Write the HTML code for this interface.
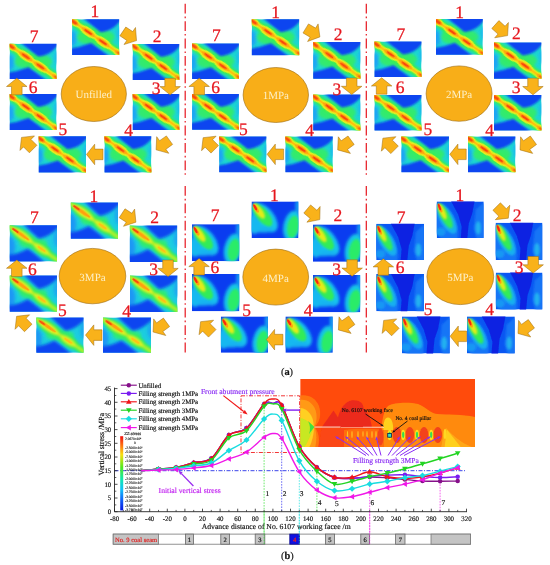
<!DOCTYPE html>
<html lang="en"><head><meta charset="utf-8"><title>Figure</title>
<style>html,body{margin:0;padding:0;background:#fff}svg{display:block}svg text{font-family:"Liberation Serif","DejaVu Serif",serif;text-rendering:geometricPrecision}</style>
</head><body>
<svg width="550" height="565" viewBox="0 0 550 565" >
<defs>
<filter id="b1" x="-20%" y="-20%" width="140%" height="140%"><feGaussianBlur stdDeviation="1.1"/></filter>
<filter id="b2" x="-30%" y="-30%" width="160%" height="160%"><feGaussianBlur stdDeviation="2.2"/></filter>
<filter id="b3" x="-30%" y="-30%" width="160%" height="160%"><feGaussianBlur stdDeviation="3.2"/></filter>
<filter id="b15" x="-30%" y="-30%" width="160%" height="160%"><feGaussianBlur stdDeviation="1.7"/></filter>
<filter id="b03" x="-5%" y="-5%" width="110%" height="110%"><feGaussianBlur stdDeviation="0.35"/></filter>
<filter id="b05" x="-20%" y="-20%" width="140%" height="140%"><feGaussianBlur stdDeviation="0.6"/></filter>
<clipPath id="mc"><rect x="0" y="0" width="47.0" height="36.0"/></clipPath>
<linearGradient id="bandA" x1="0" y1="0" x2="0" y2="1"><stop offset="0" stop-color="#30ec70" stop-opacity="0"/><stop offset="0.14" stop-color="#30ec68" stop-opacity="0.9"/><stop offset="0.25" stop-color="#60f040"/><stop offset="0.34" stop-color="#e8f020"/><stop offset="0.43" stop-color="#ffb010"/><stop offset="0.50" stop-color="#ff8810"/><stop offset="0.57" stop-color="#ffb010"/><stop offset="0.66" stop-color="#e8f020"/><stop offset="0.75" stop-color="#60f040"/><stop offset="0.86" stop-color="#30ec68" stop-opacity="0.9"/><stop offset="1" stop-color="#30ec70" stop-opacity="0"/></linearGradient>
<linearGradient id="bandB" x1="0" y1="0" x2="0" y2="1"><stop offset="0" stop-color="#22e884" stop-opacity="0"/><stop offset="0.18" stop-color="#30ee60"/><stop offset="0.36" stop-color="#a8f028"/><stop offset="0.50" stop-color="#e8e018"/><stop offset="0.64" stop-color="#a8f028"/><stop offset="0.82" stop-color="#30ee60"/><stop offset="1" stop-color="#22e884" stop-opacity="0"/></linearGradient>
<symbol id="mapA" overflow="hidden">
<g clip-path="url(#mc)">
<rect width="47.0" height="36.0" fill="#1cd6d0"/>
<g filter="url(#b15)">
<ellipse cx="23.5" cy="18.0" rx="19" ry="8.5" fill="#30ea70"/>
<ellipse cx="-1" cy="19.5" rx="5.5" ry="8.5" fill="#1ca4f4"/>
<ellipse cx="48.0" cy="14" rx="3.2" ry="7.5" fill="#1cb8f0"/>
</g>
<g filter="url(#b1)">
<path d="M9 -3 Q19 6 28.5 13 Q37 12 43 7 L50 0 L50 -3 Z" fill="#0a44f0"/>
<path d="M-3 29.5 Q8 28.5 19 24 Q29 31 39 39 L-3 39 Z" fill="#0a44f0"/>
</g>
<g filter="url(#b1)" transform="rotate(35.0737544933483 23.5 18.0)">
<rect x="-11.5" y="13.4" width="70" height="9.2" fill="#38ee58"/>
<ellipse cx="14.5" cy="18.0" rx="13" ry="6.4" fill="#38ee58"/>
<ellipse cx="32.5" cy="18.0" rx="13" ry="6.4" fill="#38ee58"/>
</g>
<g filter="url(#b05)" transform="rotate(35.0737544933483 23.5 18.0)">
<rect x="-11.5" y="15.5" width="70" height="5" fill="#dcf020"/>
<ellipse cx="14.5" cy="18.0" rx="10.5" ry="4.1" fill="#e4f020"/>
<ellipse cx="32.5" cy="18.0" rx="10.5" ry="4.1" fill="#e4f020"/>
<ellipse cx="-3.5" cy="18.0" rx="7" ry="3.8" fill="#e4f020"/>
<ellipse cx="51.5" cy="18.0" rx="6" ry="3.4" fill="#e4f020"/>
</g>
<g filter="url(#b05)" transform="rotate(35.0737544933483 23.5 18.0)">
<rect x="-11.5" y="17.0" width="70" height="2" fill="#ffc010"/>
<ellipse cx="14.5" cy="18.0" rx="8" ry="2.4" fill="#ffa810"/>
<ellipse cx="32.5" cy="18.0" rx="8" ry="2.4" fill="#ffa810"/>
<ellipse cx="-3.5" cy="18.0" rx="6" ry="2.4" fill="#ff9810"/>
<ellipse cx="51.5" cy="18.0" rx="4.5" ry="2" fill="#ffa810"/>
</g>
<g filter="url(#b05)" transform="rotate(35.0737544933483 23.5 18.0)">
<ellipse cx="14.5" cy="18.0" rx="4.8" ry="1.15" fill="#f84410"/>
<ellipse cx="32.5" cy="18.0" rx="4.8" ry="1.15" fill="#f84410"/>
<ellipse cx="-3.5" cy="18.0" rx="4" ry="1.3" fill="#f84c10"/>
<ellipse cx="52.0" cy="18.0" rx="2.6" ry="1.0" fill="#f86010"/>
</g>
</g></symbol>
<symbol id="mapA2" overflow="hidden">
<g clip-path="url(#mc)">
<rect width="47.0" height="36.0" fill="#1ccce0"/>
<g filter="url(#b15)">
<ellipse cx="23.5" cy="18.0" rx="14" ry="6" fill="#2ce888"/>
<ellipse cx="-1" cy="22" rx="6.5" ry="11" fill="#1c98f4"/>
<ellipse cx="48.0" cy="13" rx="4.5" ry="9" fill="#1ca8f0"/>
</g>
<g filter="url(#b15)">
<path d="M12 -3 Q20 6 29 13.5 Q38 11.5 44 6 L50 1 L50 -3 Z" fill="#0a44f0"/>
<path d="M-3 30 Q8 29 18 23.5 Q29 31 37 39 L-3 39 Z" fill="#0a44f0"/>
</g>
<g filter="url(#b1)" transform="rotate(35.0737544933483 23.5 18.0)">
<rect x="-11.5" y="14.0" width="70" height="8" fill="#34ec60"/>
<ellipse cx="11.5" cy="18.0" rx="15" ry="6.4" fill="#34ec60"/>
<ellipse cx="33.5" cy="18.0" rx="13" ry="6.2" fill="#34ec60"/>
</g>
<g filter="url(#b1)" transform="rotate(35.0737544933483 23.5 18.0)">
<rect x="-11.5" y="16.4" width="70" height="3.2" fill="#b8f028"/>
<ellipse cx="9.5" cy="18.0" rx="13" ry="3.8" fill="#e0f020"/>
<ellipse cx="33.5" cy="18.0" rx="9.5" ry="3.4" fill="#d8f020"/>
</g>
<g filter="url(#b05)" transform="rotate(35.0737544933483 23.5 18.0)">
<ellipse cx="8.5" cy="17.8" rx="10" ry="1.7" fill="#ffa010"/>
<ellipse cx="1.5" cy="17.8" rx="4" ry="1.2" fill="#f84810"/>
<ellipse cx="33.5" cy="18.0" rx="5" ry="1.3" fill="#ffc018"/>
</g>
</g></symbol>
<symbol id="mapB" overflow="hidden">
<g clip-path="url(#mc)">
<rect width="47.0" height="36.0" fill="#0a3cf0"/>
<g filter="url(#b15)">
<ellipse cx="13" cy="16" rx="17" ry="9.5" fill="#18c4ec" transform="rotate(50 13 16)"/>
<ellipse cx="9" cy="27.5" rx="14" ry="3.2" fill="#18b4f0"/>
<ellipse cx="3" cy="22" rx="6" ry="10" fill="#18b8f0"/>
<ellipse cx="40.5" cy="24" rx="8.5" ry="15" fill="#18c8e4" transform="rotate(12 40.5 24)"/>
<ellipse cx="46" cy="5" rx="2" ry="7" fill="#18a8f0"/>
</g>
<g filter="url(#b1)">
<ellipse cx="11" cy="13.5" rx="13.5" ry="6" fill="#30ec58" transform="rotate(50 11 13.5)"/>
<ellipse cx="41.5" cy="25" rx="5.6" ry="11" fill="#2cec68" transform="rotate(10 41.5 25)"/>
</g>
<g filter="url(#b1)">
<ellipse cx="7.5" cy="9.5" rx="9" ry="3.4" fill="#e4ec18" transform="rotate(54 7.5 9.5)"/>
</g>
<g filter="url(#b05)">
<ellipse cx="4.6" cy="7" rx="4.6" ry="1.7" fill="#ffa010" transform="rotate(60 4.6 7)"/>
<ellipse cx="3.6" cy="5.8" rx="3.4" ry="1.2" fill="#f82c10" transform="rotate(62 3.6 5.8)"/>
</g>
</g></symbol>
<symbol id="mapC" overflow="hidden">
<g clip-path="url(#mc)">
<rect width="47.0" height="36.0" fill="#0a56f2"/>
<g filter="url(#b1)">
<ellipse cx="8" cy="22" rx="11" ry="22" fill="#1474f6" transform="rotate(-24 8 22)"/>
<path d="M39 8 L48 0 L48 37 L40 37 L37 27 Z" fill="#1474f6"/>
</g>
<g filter="url(#b05)">
<path d="M14 -1 L38 -1 L35.5 12 L32 22 L30.5 37 L24 37 L25 25 L21.5 13 Z" fill="#0a22e2"/>
</g>
<g filter="url(#b1)">
<ellipse cx="41.5" cy="26" rx="2.8" ry="6.5" fill="#20b0f0"/>
<ellipse cx="10" cy="17" rx="16.5" ry="6.8" fill="#18b0f0" transform="rotate(60 10 17)"/>
<ellipse cx="4" cy="30" rx="5" ry="4" fill="#1898f4"/>
</g>
<g filter="url(#b1)">
<ellipse cx="8.5" cy="14.5" rx="13.5" ry="4.4" fill="#30ec58" transform="rotate(61 8.5 14.5)"/>
</g>
<g filter="url(#b1)">
<ellipse cx="5.6" cy="10" rx="8.5" ry="2.7" fill="#e4ec18" transform="rotate(64 5.6 10)"/>
</g>
<g filter="url(#b05)">
<ellipse cx="3.4" cy="6.6" rx="4.6" ry="1.6" fill="#ffa010" transform="rotate(68 3.4 6.6)"/>
<ellipse cx="2.8" cy="5.6" rx="3.4" ry="1.1" fill="#f82810" transform="rotate(70 2.8 5.6)"/>
</g>
</g></symbol>
</defs>
<use href="#mapA" x="0" y="0" width="47.0" height="36.0" transform="translate(72.1 19.3) scale(1.0021 0.9889)"/>
<use href="#mapA" x="0" y="0" width="47.0" height="36.0" transform="translate(132.7 44.0) scale(0.9915 1.0000)"/>
<use href="#mapA" x="0" y="0" width="47.0" height="36.0" transform="translate(132.7 94.0) scale(0.9915 1.0000)"/>
<use href="#mapA" x="0" y="0" width="47.0" height="36.0" transform="translate(104.5 136.3) scale(0.9957 1.0056)"/>
<use href="#mapA" x="0" y="0" width="47.0" height="36.0" transform="translate(38.7 136.3) scale(1.0064 1.0056)"/>
<use href="#mapA" x="0" y="0" width="47.0" height="36.0" transform="translate(9.7 94.0) scale(0.9957 1.0000)"/>
<use href="#mapA" x="0" y="0" width="47.0" height="36.0" transform="translate(9.7 43.8) scale(0.9957 0.9778)"/>
<ellipse cx="93.8" cy="94" rx="32.6" ry="27.5" fill="#f8ae18" stroke="#9a6a10" stroke-width="0.6"/>
<text x="93.8" y="98.4" font-size="11" fill="#fdf0c8" text-anchor="middle">Unfilled</text>
<polygon points="125.8,27.0 132.7,31.6 135.5,27.5 136.5,40.6 124.0,44.5 126.8,40.4 119.9,35.8" fill="#f9b21a" stroke="#9a6a10" stroke-width="0.5" stroke-linejoin="miter"/>
<polygon points="175.4,78.3 175.4,86.6 180.4,86.6 170.1,94.8 159.9,86.6 164.8,86.6 164.8,78.3" fill="#f9b21a" stroke="#9a6a10" stroke-width="0.5" stroke-linejoin="miter"/>
<polygon points="172.6,144.4 165.9,149.3 168.8,153.3 156.1,149.8 156.7,136.7 159.6,140.7 166.4,135.9" fill="#f9b21a" stroke="#9a6a10" stroke-width="0.5" stroke-linejoin="miter"/>
<polygon points="103.0,159.7 94.7,159.7 94.7,164.7 86.5,154.4 94.7,144.2 94.7,149.1 103.0,149.1" fill="#f9b21a" stroke="#9a6a10" stroke-width="0.5" stroke-linejoin="miter"/>
<polygon points="29.4,152.8 23.5,146.9 20.0,150.4 21.5,137.4 34.5,135.9 31.0,139.4 36.9,145.3" fill="#f9b21a" stroke="#9a6a10" stroke-width="0.5" stroke-linejoin="miter"/>
<polygon points="11.5,94.8 11.5,86.5 6.5,86.5 16.8,78.2 27.0,86.5 22.1,86.5 22.1,94.8" fill="#f9b21a" stroke="#9a6a10" stroke-width="0.5" stroke-linejoin="miter"/>
<text x="94.80000000000001" y="17.2" font-size="17.5" fill="#e6161e" stroke="#e6161e" stroke-width="0.25" text-anchor="middle">1</text>
<text x="157.2" y="41.8" font-size="17.5" fill="#e6161e" stroke="#e6161e" stroke-width="0.25" text-anchor="middle">2</text>
<text x="156.0" y="94" font-size="17.5" fill="#e6161e" stroke="#e6161e" stroke-width="0.25" text-anchor="middle">3</text>
<text x="128.5" y="135.60000000000002" font-size="17.5" fill="#e6161e" stroke="#e6161e" stroke-width="0.25" text-anchor="middle">4</text>
<text x="62.800000000000004" y="135.20000000000002" font-size="17.5" fill="#e6161e" stroke="#e6161e" stroke-width="0.25" text-anchor="middle">5</text>
<text x="33.1" y="93.2" font-size="17.5" fill="#e6161e" stroke="#e6161e" stroke-width="0.25" text-anchor="middle">6</text>
<text x="34.0" y="41.8" font-size="17.5" fill="#e6161e" stroke="#e6161e" stroke-width="0.25" text-anchor="middle">7</text>
<use href="#mapA" x="0" y="0" width="47.0" height="36.0" transform="translate(251.8 19.2) scale(1.0085 1.0000)"/>
<use href="#mapA" x="0" y="0" width="47.0" height="36.0" transform="translate(313.2 42.0) scale(1.0043 1.0222)"/>
<use href="#mapA" x="0" y="0" width="47.0" height="36.0" transform="translate(313.2 94.6) scale(1.0043 1.0000)"/>
<use href="#mapA" x="0" y="0" width="47.0" height="36.0" transform="translate(285.4 136.4) scale(1.0085 0.9944)"/>
<use href="#mapA" x="0" y="0" width="47.0" height="36.0" transform="translate(219.2 136.4) scale(1.0043 0.9944)"/>
<use href="#mapA" x="0" y="0" width="47.0" height="36.0" transform="translate(192.1 94.0) scale(0.9957 0.9944)"/>
<use href="#mapA" x="0" y="0" width="47.0" height="36.0" transform="translate(192.1 43.4) scale(0.9957 0.9889)"/>
<ellipse cx="275.8" cy="95" rx="32.7" ry="27.5" fill="#f8ae18" stroke="#9a6a10" stroke-width="0.6"/>
<text x="275.8" y="99.4" font-size="11" fill="#fdf0c8" text-anchor="middle">1MPa</text>
<polygon points="308.5,23.9 315.6,28.1 318.1,23.9 319.9,36.9 307.6,41.5 310.1,37.2 303.0,32.9" fill="#f9b21a" stroke="#9a6a10" stroke-width="0.5" stroke-linejoin="miter"/>
<polygon points="357.0,78.0 357.0,86.3 361.9,86.3 351.7,94.5 341.4,86.3 346.4,86.3 346.4,78.0" fill="#f9b21a" stroke="#9a6a10" stroke-width="0.5" stroke-linejoin="miter"/>
<polygon points="354.2,144.5 347.5,149.4 350.4,153.4 337.7,149.9 338.3,136.8 341.2,140.8 348.0,136.0" fill="#f9b21a" stroke="#9a6a10" stroke-width="0.5" stroke-linejoin="miter"/>
<polygon points="283.6,159.6 275.3,159.6 275.3,164.6 267.1,154.3 275.3,144.1 275.3,149.0 283.6,149.0" fill="#f9b21a" stroke="#9a6a10" stroke-width="0.5" stroke-linejoin="miter"/>
<polygon points="211.0,153.1 205.1,147.2 201.6,150.7 203.1,137.7 216.1,136.2 212.6,139.7 218.5,145.6" fill="#f9b21a" stroke="#9a6a10" stroke-width="0.5" stroke-linejoin="miter"/>
<polygon points="193.9,94.8 193.9,86.5 188.9,86.5 199.2,78.2 209.4,86.5 204.5,86.5 204.5,94.8" fill="#f9b21a" stroke="#9a6a10" stroke-width="0.5" stroke-linejoin="miter"/>
<text x="275.65" y="17.799999999999997" font-size="17.5" fill="#e6161e" stroke="#e6161e" stroke-width="0.25" text-anchor="middle">1</text>
<text x="337.99999999999994" y="39.8" font-size="17.5" fill="#e6161e" stroke="#e6161e" stroke-width="0.25" text-anchor="middle">2</text>
<text x="336.79999999999995" y="94.6" font-size="17.5" fill="#e6161e" stroke="#e6161e" stroke-width="0.25" text-anchor="middle">3</text>
<text x="309.70000000000005" y="135.70000000000002" font-size="17.5" fill="#e6161e" stroke="#e6161e" stroke-width="0.25" text-anchor="middle">4</text>
<text x="243.24999999999997" y="135.3" font-size="17.5" fill="#e6161e" stroke="#e6161e" stroke-width="0.25" text-anchor="middle">5</text>
<text x="215.5" y="93.2" font-size="17.5" fill="#e6161e" stroke="#e6161e" stroke-width="0.25" text-anchor="middle">6</text>
<text x="216.4" y="41.4" font-size="17.5" fill="#e6161e" stroke="#e6161e" stroke-width="0.25" text-anchor="middle">7</text>
<use href="#mapA" x="0" y="0" width="47.0" height="36.0" transform="translate(436.0 19.0) scale(0.9957 0.9944)"/>
<use href="#mapA" x="0" y="0" width="47.0" height="36.0" transform="translate(494.0 42.4) scale(1.0085 1.0111)"/>
<use href="#mapA" x="0" y="0" width="47.0" height="36.0" transform="translate(494.0 95.0) scale(1.0085 0.9889)"/>
<use href="#mapA" x="0" y="0" width="47.0" height="36.0" transform="translate(468.0 136.4) scale(1.0085 0.9944)"/>
<use href="#mapA" x="0" y="0" width="47.0" height="36.0" transform="translate(401.4 136.4) scale(1.0128 0.9944)"/>
<use href="#mapA" x="0" y="0" width="47.0" height="36.0" transform="translate(374.5 95.0) scale(1.0000 0.9889)"/>
<use href="#mapA" x="0" y="0" width="47.0" height="36.0" transform="translate(374.5 41.6) scale(1.0000 0.9833)"/>
<ellipse cx="459.1" cy="93.6" rx="33" ry="27.7" fill="#f8ae18" stroke="#9a6a10" stroke-width="0.6"/>
<text x="459.1" y="98.0" font-size="11" fill="#fdf0c8" text-anchor="middle">2MPa</text>
<polygon points="498.9,20.6 505.1,26.2 508.4,22.5 507.6,35.6 494.7,37.8 498.0,34.1 491.8,28.5" fill="#f9b21a" stroke="#9a6a10" stroke-width="0.5" stroke-linejoin="miter"/>
<polygon points="538.3,78.2 538.3,86.5 543.2,86.5 533.0,94.8 522.7,86.5 527.7,86.5 527.7,78.2" fill="#f9b21a" stroke="#9a6a10" stroke-width="0.5" stroke-linejoin="miter"/>
<polygon points="536.5,144.5 529.8,149.4 532.7,153.4 520.0,149.9 520.6,136.8 523.5,140.8 530.3,136.0" fill="#f9b21a" stroke="#9a6a10" stroke-width="0.5" stroke-linejoin="miter"/>
<polygon points="466.2,159.6 457.9,159.6 457.9,164.6 449.8,154.3 457.9,144.1 457.9,149.0 466.2,149.0" fill="#f9b21a" stroke="#9a6a10" stroke-width="0.5" stroke-linejoin="miter"/>
<polygon points="390.8,153.6 384.9,147.7 381.4,151.2 382.9,138.2 395.9,136.7 392.4,140.2 398.3,146.1" fill="#f9b21a" stroke="#9a6a10" stroke-width="0.5" stroke-linejoin="miter"/>
<polygon points="376.3,94.2 376.3,86.0 371.4,86.0 381.6,77.8 391.9,86.0 386.9,86.0 386.9,94.2" fill="#f9b21a" stroke="#9a6a10" stroke-width="0.5" stroke-linejoin="miter"/>
<text x="459.54999999999995" y="17.9" font-size="17.5" fill="#e6161e" stroke="#e6161e" stroke-width="0.25" text-anchor="middle">1</text>
<text x="516.4000000000001" y="38.8" font-size="17.5" fill="#e6161e" stroke="#e6161e" stroke-width="0.25" text-anchor="middle">2</text>
<text x="516.2" y="93" font-size="17.5" fill="#e6161e" stroke="#e6161e" stroke-width="0.25" text-anchor="middle">3</text>
<text x="489.7" y="135.70000000000002" font-size="17.5" fill="#e6161e" stroke="#e6161e" stroke-width="0.25" text-anchor="middle">4</text>
<text x="427.95" y="135.3" font-size="17.5" fill="#e6161e" stroke="#e6161e" stroke-width="0.25" text-anchor="middle">5</text>
<text x="400.0" y="93.2" font-size="17.5" fill="#e6161e" stroke="#e6161e" stroke-width="0.25" text-anchor="middle">6</text>
<text x="400.9" y="39.6" font-size="17.5" fill="#e6161e" stroke="#e6161e" stroke-width="0.25" text-anchor="middle">7</text>
<use href="#mapA2" x="0" y="0" width="47.0" height="36.0" transform="translate(70.8 202.4) scale(1.0043 1.0083)"/>
<use href="#mapA2" x="0" y="0" width="47.0" height="36.0" transform="translate(129.8 225.4) scale(1.0085 1.0139)"/>
<use href="#mapA2" x="0" y="0" width="47.0" height="36.0" transform="translate(130.0 275.6) scale(1.0085 1.0111)"/>
<use href="#mapA2" x="0" y="0" width="47.0" height="36.0" transform="translate(103.0 317.5) scale(1.0213 0.9806)"/>
<use href="#mapA2" x="0" y="0" width="47.0" height="36.0" transform="translate(36.3 317.5) scale(1.0064 0.9806)"/>
<use href="#mapA2" x="0" y="0" width="47.0" height="36.0" transform="translate(9.7 275.4) scale(1.0064 1.0111)"/>
<use href="#mapA2" x="0" y="0" width="47.0" height="36.0" transform="translate(9.7 225.2) scale(1.0064 1.0056)"/>
<ellipse cx="92.5" cy="276.1" rx="33.3" ry="27.7" fill="#f8ae18" stroke="#9a6a10" stroke-width="0.6"/>
<text x="92.5" y="280.5" font-size="11" fill="#fdf0c8" text-anchor="middle">3MPa</text>
<polygon points="125.0,208.8 131.9,213.3 134.6,209.1 135.9,222.2 123.5,226.3 126.2,222.2 119.2,217.7" fill="#f9b21a" stroke="#9a6a10" stroke-width="0.5" stroke-linejoin="miter"/>
<polygon points="173.3,260.1 173.3,268.4 178.2,268.4 168.0,276.6 157.8,268.4 162.7,268.4 162.7,260.1" fill="#f9b21a" stroke="#9a6a10" stroke-width="0.5" stroke-linejoin="miter"/>
<polygon points="169.6,326.6 162.9,331.5 165.8,335.5 153.1,332.0 153.7,318.9 156.6,322.9 163.4,318.1" fill="#f9b21a" stroke="#9a6a10" stroke-width="0.5" stroke-linejoin="miter"/>
<polygon points="102.0,340.4 93.8,340.4 93.8,345.4 85.5,335.1 93.8,324.9 93.8,329.8 102.0,329.8" fill="#f9b21a" stroke="#9a6a10" stroke-width="0.5" stroke-linejoin="miter"/>
<polygon points="24.5,331.7 18.6,325.8 15.1,329.3 16.6,316.3 29.6,314.8 26.1,318.3 32.0,324.2" fill="#f9b21a" stroke="#9a6a10" stroke-width="0.5" stroke-linejoin="miter"/>
<polygon points="11.5,276.6 11.5,268.3 6.5,268.3 16.8,260.1 27.0,268.3 22.1,268.3 22.1,276.6" fill="#f9b21a" stroke="#9a6a10" stroke-width="0.5" stroke-linejoin="miter"/>
<text x="93.85000000000001" y="201.70000000000002" font-size="17.5" fill="#e6161e" stroke="#e6161e" stroke-width="0.25" text-anchor="middle">1</text>
<text x="154.7" y="223.20000000000002" font-size="17.5" fill="#e6161e" stroke="#e6161e" stroke-width="0.25" text-anchor="middle">2</text>
<text x="153.7" y="274.6" font-size="17.5" fill="#e6161e" stroke="#e6161e" stroke-width="0.25" text-anchor="middle">3</text>
<text x="126.6" y="316.8" font-size="17.5" fill="#e6161e" stroke="#e6161e" stroke-width="0.25" text-anchor="middle">4</text>
<text x="62.4" y="316.4" font-size="17.5" fill="#e6161e" stroke="#e6161e" stroke-width="0.25" text-anchor="middle">5</text>
<text x="32.35" y="274.59999999999997" font-size="17.5" fill="#e6161e" stroke="#e6161e" stroke-width="0.25" text-anchor="middle">6</text>
<text x="34.25" y="223.2" font-size="17.5" fill="#e6161e" stroke="#e6161e" stroke-width="0.25" text-anchor="middle">7</text>
<use href="#mapB" x="0" y="0" width="47.0" height="36.0" transform="translate(251.5 201.4) scale(1.0000 1.0167)"/>
<use href="#mapB" x="0" y="0" width="47.0" height="36.0" transform="translate(313.0 224.4) scale(1.0064 1.0389)"/>
<use href="#mapB" x="0" y="0" width="47.0" height="36.0" transform="translate(313.0 275.0) scale(1.0064 1.0361)"/>
<use href="#mapB" x="0" y="0" width="47.0" height="36.0" transform="translate(285.4 316.4) scale(1.0085 1.0111)"/>
<use href="#mapB" x="0" y="0" width="47.0" height="36.0" transform="translate(220.8 316.4) scale(1.0043 1.0111)"/>
<use href="#mapB" x="0" y="0" width="47.0" height="36.0" transform="translate(192.0 274.0) scale(1.0085 1.0361)"/>
<use href="#mapB" x="0" y="0" width="47.0" height="36.0" transform="translate(192.0 224.2) scale(1.0085 1.0278)"/>
<ellipse cx="275.7" cy="277.1" rx="32.9" ry="28" fill="#f8ae18" stroke="#9a6a10" stroke-width="0.6"/>
<text x="275.7" y="281.5" font-size="11" fill="#fdf0c8" text-anchor="middle">4MPa</text>
<polygon points="310.6,204.9 316.9,210.3 320.1,206.5 319.8,219.6 306.9,222.2 310.1,218.4 303.8,213.1" fill="#f9b21a" stroke="#9a6a10" stroke-width="0.5" stroke-linejoin="miter"/>
<polygon points="357.4,259.8 357.4,268.1 362.4,268.1 352.1,276.2 341.9,268.1 346.8,268.1 346.8,259.8" fill="#f9b21a" stroke="#9a6a10" stroke-width="0.5" stroke-linejoin="miter"/>
<polygon points="354.9,324.5 348.2,329.4 351.1,333.4 338.4,329.9 339.0,316.8 341.9,320.8 348.7,316.0" fill="#f9b21a" stroke="#9a6a10" stroke-width="0.5" stroke-linejoin="miter"/>
<polygon points="282.9,344.9 274.6,344.9 274.6,349.9 266.4,339.6 274.6,329.4 274.6,334.3 282.9,334.3" fill="#f9b21a" stroke="#9a6a10" stroke-width="0.5" stroke-linejoin="miter"/>
<polygon points="208.5,337.1 202.6,331.2 199.1,334.7 200.6,321.7 213.6,320.2 210.1,323.7 216.0,329.6" fill="#f9b21a" stroke="#9a6a10" stroke-width="0.5" stroke-linejoin="miter"/>
<polygon points="193.8,274.9 193.8,266.6 188.8,266.6 199.1,258.4 209.3,266.6 204.4,266.6 204.4,274.9" fill="#f9b21a" stroke="#9a6a10" stroke-width="0.5" stroke-linejoin="miter"/>
<text x="274.45" y="200.70000000000002" font-size="17.5" fill="#e6161e" stroke="#e6161e" stroke-width="0.25" text-anchor="middle">1</text>
<text x="337.84999999999997" y="220.70000000000002" font-size="17.5" fill="#e6161e" stroke="#e6161e" stroke-width="0.25" text-anchor="middle">2</text>
<text x="336.65" y="275" font-size="17.5" fill="#e6161e" stroke="#e6161e" stroke-width="0.25" text-anchor="middle">3</text>
<text x="308.20000000000005" y="315.7" font-size="17.5" fill="#e6161e" stroke="#e6161e" stroke-width="0.25" text-anchor="middle">4</text>
<text x="246.54999999999998" y="316.09999999999997" font-size="17.5" fill="#e6161e" stroke="#e6161e" stroke-width="0.25" text-anchor="middle">5</text>
<text x="214.89999999999998" y="273.2" font-size="17.5" fill="#e6161e" stroke="#e6161e" stroke-width="0.25" text-anchor="middle">6</text>
<text x="215.1" y="221.0" font-size="17.5" fill="#e6161e" stroke="#e6161e" stroke-width="0.25" text-anchor="middle">7</text>
<use href="#mapC" x="0" y="0" width="47.0" height="36.0" transform="translate(436.7 201.4) scale(1.0000 1.0167)"/>
<use href="#mapC" x="0" y="0" width="47.0" height="36.0" transform="translate(495.6 222.7) scale(0.9957 1.0361)"/>
<use href="#mapC" x="0" y="0" width="47.0" height="36.0" transform="translate(495.8 272.6) scale(0.9915 1.0250)"/>
<use href="#mapC" x="0" y="0" width="47.0" height="36.0" transform="translate(467.0 316.4) scale(1.0170 1.0278)"/>
<use href="#mapC" x="0" y="0" width="47.0" height="36.0" transform="translate(402.0 316.4) scale(1.0170 1.0278)"/>
<use href="#mapC" x="0" y="0" width="47.0" height="36.0" transform="translate(376.2 274.0) scale(1.0170 1.0361)"/>
<use href="#mapC" x="0" y="0" width="47.0" height="36.0" transform="translate(376.2 223.7) scale(1.0170 1.0083)"/>
<ellipse cx="460.3" cy="276.6" rx="33.4" ry="28" fill="#f8ae18" stroke="#9a6a10" stroke-width="0.6"/>
<text x="460.3" y="281.0" font-size="11" fill="#fdf0c8" text-anchor="middle">5MPa</text>
<polygon points="500.4,202.8 506.3,208.7 509.8,205.2 508.3,218.2 495.3,219.7 498.8,216.2 492.9,210.3" fill="#f9b21a" stroke="#9a6a10" stroke-width="0.5" stroke-linejoin="miter"/>
<polygon points="538.5,256.5 538.5,264.8 543.4,264.8 533.2,273.0 522.9,264.8 527.9,264.8 527.9,256.5" fill="#f9b21a" stroke="#9a6a10" stroke-width="0.5" stroke-linejoin="miter"/>
<polygon points="534.5,328.1 527.8,333.0 530.7,337.0 518.0,333.5 518.6,320.4 521.5,324.4 528.3,319.6" fill="#f9b21a" stroke="#9a6a10" stroke-width="0.5" stroke-linejoin="miter"/>
<polygon points="466.6,341.6 458.3,341.6 458.3,346.5 450.1,336.3 458.3,326.0 458.3,331.0 466.6,331.0" fill="#f9b21a" stroke="#9a6a10" stroke-width="0.5" stroke-linejoin="miter"/>
<polygon points="391.6,335.8 385.7,329.9 382.2,333.4 383.7,320.4 396.7,318.9 393.2,322.4 399.1,328.3" fill="#f9b21a" stroke="#9a6a10" stroke-width="0.5" stroke-linejoin="miter"/>
<polygon points="378.0,275.2 378.0,266.9 373.1,266.9 383.3,258.8 393.6,266.9 388.6,266.9 388.6,275.2" fill="#f9b21a" stroke="#9a6a10" stroke-width="0.5" stroke-linejoin="miter"/>
<text x="459.84999999999997" y="200.5" font-size="17.5" fill="#e6161e" stroke="#e6161e" stroke-width="0.25" text-anchor="middle">1</text>
<text x="517.2" y="220.5" font-size="17.5" fill="#e6161e" stroke="#e6161e" stroke-width="0.25" text-anchor="middle">2</text>
<text x="519.1" y="272.6" font-size="17.5" fill="#e6161e" stroke="#e6161e" stroke-width="0.25" text-anchor="middle">3</text>
<text x="489.5" y="314.7" font-size="17.5" fill="#e6161e" stroke="#e6161e" stroke-width="0.25" text-anchor="middle">4</text>
<text x="428.04999999999995" y="314.99999999999994" font-size="17.5" fill="#e6161e" stroke="#e6161e" stroke-width="0.25" text-anchor="middle">5</text>
<text x="400.1" y="273.2" font-size="17.5" fill="#e6161e" stroke="#e6161e" stroke-width="0.25" text-anchor="middle">6</text>
<text x="401.0" y="222.7" font-size="17.5" fill="#e6161e" stroke="#e6161e" stroke-width="0.25" text-anchor="middle">7</text>
<line x1="185.2" y1="3.8" x2="185.2" y2="174.8" stroke="#e6161e" stroke-width="1.2" stroke-dasharray="9.8 3 1.6 3"/>
<line x1="185.2" y1="186" x2="185.2" y2="353" stroke="#e6161e" stroke-width="1.2" stroke-dasharray="9.8 3 1.6 3"/>
<line x1="366.3" y1="3.8" x2="366.3" y2="174.8" stroke="#e6161e" stroke-width="1.2" stroke-dasharray="9.8 3 1.6 3"/>
<line x1="366.3" y1="186" x2="366.3" y2="353" stroke="#e6161e" stroke-width="1.2" stroke-dasharray="9.8 3 1.6 3"/>
<line x1="114.5" y1="470.7" x2="466.5" y2="470.7" stroke="#2430e8" stroke-width="0.9" stroke-dasharray="4 1.5 1 1.5"/>
<rect x="241" y="395.8" width="58.6" height="56.7" fill="none" stroke="#f02020" stroke-width="0.9" stroke-dasharray="4 1.5 1 1.5"/>
<line x1="264.1" y1="404.2" x2="264.1" y2="544.0" stroke="#30e030" stroke-width="0.7" stroke-dasharray="1.6 1.2"/>
<line x1="281.7" y1="405.6" x2="281.7" y2="511.7" stroke="#3030f0" stroke-width="0.7" stroke-dasharray="1.6 1.2"/>
<line x1="299.3" y1="446.6" x2="299.3" y2="544.0" stroke="#20e0e0" stroke-width="0.7" stroke-dasharray="1.6 1.2"/>
<line x1="316.9" y1="467.4" x2="316.9" y2="511.7" stroke="#30e030" stroke-width="0.7" stroke-dasharray="1.6 1.2"/>
<line x1="369.7" y1="471.8" x2="369.7" y2="544.0" stroke="#f020e8" stroke-width="0.7" stroke-dasharray="1.6 1.2"/>
<line x1="440.1" y1="473.1" x2="440.1" y2="511.7" stroke="#f020e8" stroke-width="0.7" stroke-dasharray="1.6 1.2"/>
<clipPath id="ic"><rect x="300.2" y="379.0" width="174.8" height="68.0"/></clipPath>
<g clip-path="url(#ic)">
<rect x="300.2" y="379.0" width="174.8" height="68.0" fill="#ff4b0c"/>
<g filter="url(#b03)">
<path d="M300.2 395.5 C308 394 316 398 319 406 C321.5 414 320 422 314.5 427 C319 432 320 440 318 448 H300.2Z" fill="#ff7410"/>
<path d="M300.2 400 C307 399 313 403 315.5 410 C317.5 417 316.5 423 314 427 C317 432 317 440 315 448 H300.2Z" fill="#ff9a18"/>
<path d="M300.2 408 C306 408 311 413 313 420 L314 427 C314 434 312 442 309 448 H300.2Z" fill="#ffd020"/>
<path d="M300.2 418 C306 419 310 423 314 427 C311 434 308 442 304 448 H300.2Z" fill="#c8e820"/>
<path d="M308 421 L314.4 427 L309 434 Q311.5 427 308 421Z" fill="#40e040"/>
<path d="M381 448 C381 430 382 412 388 406 C394 402 410 402 418 404 C426 407 430 413 437 414 C448 415 462 414 475.0 417 V448Z" fill="#ff8a0e"/>
<path d="M344 448 V430 Q364 427.5 384 430 V448Z" fill="#ff6c10"/>
<path d="M441 448 C443 440 443 432 446 428 C450 432 458 442 474 448Z" fill="#ffa818"/>
<path d="M444.5 448 L446.8 429.5 L461.5 448Z" fill="#ffd01c"/>
<path d="M321.5 427.5 L333.5 410.5 L338 417.5 C340 409 345 401.5 352 400.3 C359 399.5 363.5 403 363.5 408 C366 412 369 414 370.5 420 L372 427.5Z" fill="#eb2a1e"/>
<path d="M321.5 428.6 H344 V448 H318.5 C320 440 320 433 321.5 428.6Z" fill="#fb4612"/>
<ellipse cx="397" cy="435" rx="4.3" ry="8" fill="#f3421a"/>
<ellipse cx="409.8" cy="435" rx="4.3" ry="8" fill="#f3421a"/>
<ellipse cx="424" cy="435" rx="4.3" ry="8" fill="#f3421a"/>
<ellipse cx="437.8" cy="435" rx="4.3" ry="8" fill="#f3421a"/>
<ellipse cx="380.5" cy="437" rx="3" ry="8.5" fill="#f3421a"/>
<path d="M383.5 430 C383 422 385 417.5 388 417.5 C391.5 417.5 393.5 423 393 430Z" fill="#ffd21c"/>
<ellipse cx="389.6" cy="435" rx="2" ry="5.2" fill="#ffe020"/>
<ellipse cx="389.6" cy="435" rx="1.1" ry="3.2" fill="#38dc50"/>
<ellipse cx="403.2" cy="435" rx="2" ry="5.2" fill="#ffe020"/>
<ellipse cx="403.2" cy="435" rx="1.1" ry="3.2" fill="#38dc50"/>
<ellipse cx="417" cy="435" rx="2" ry="5.2" fill="#ffe020"/>
<ellipse cx="417" cy="435" rx="1.1" ry="3.2" fill="#38dc50"/>
<ellipse cx="431.2" cy="435" rx="2" ry="5.2" fill="#ffe020"/>
<ellipse cx="431.2" cy="435" rx="1.1" ry="3.2" fill="#38dc50"/>
<ellipse cx="445" cy="434" rx="1.5" ry="5" fill="#ffd820"/>
<ellipse cx="347.5" cy="436.0" rx="0.65" ry="5" fill="#ffc024"/>
<ellipse cx="352" cy="434.5" rx="0.65" ry="3.5" fill="#ffc024"/>
<ellipse cx="358" cy="435.0" rx="0.65" ry="4" fill="#ffc024"/>
<ellipse cx="363" cy="434.0" rx="0.65" ry="3" fill="#ffc024"/>
<ellipse cx="367" cy="435.5" rx="0.65" ry="4.5" fill="#ffc024"/>
<ellipse cx="372" cy="434.5" rx="0.65" ry="3.5" fill="#ffc024"/>
<ellipse cx="376" cy="435.0" rx="0.65" ry="4" fill="#ffc024"/>
</g>
<rect x="314.5" y="426.6" width="26" height="0.9" fill="#fff0e0"/>
<rect x="363" y="426.8" width="21" height="0.8" fill="#fff0e0"/>
<rect x="341" y="427.2" width="22" height="0.6" fill="#ffc8b0"/>
</g>
<rect x="387.7" y="433.4" width="3.8" height="3.8" fill="#30e0c0" stroke="#0a1850" stroke-width="0.8"/>
<text x="341.8" y="412.2" font-size="5.55" fill="#111" stroke="#111" stroke-width="0.16">No. 6107 working face</text>
<text x="395.4" y="420.0" font-size="5.5" fill="#111" stroke="#111" stroke-width="0.16">No. 4 coal pillar</text>
<path d="M365.5 414.0 L381.2 424.6" stroke="#111" stroke-width="0.9" fill="none"/><path d="M383.8 426.4 L380.5 425.5 L381.8 423.7Z" fill="#111"/>
<path d="M407.5 421.0 L394.5 430.9" stroke="#111" stroke-width="0.9" fill="none"/><path d="M392.0 432.8 L393.9 430.0 L395.2 431.7Z" fill="#111"/>
<path d="M114.5 387.6 V511.7 H467.0" stroke="#222" stroke-width="0.9" fill="none"/>
<line x1="114.5" y1="511.7" x2="117.5" y2="511.7" stroke="#222" stroke-width="0.8"/>
<text x="111.3" y="514.0" font-size="6.9" text-anchor="end" fill="#111" stroke="#111" stroke-width="0.16">0</text>
<line x1="114.5" y1="498.0" x2="117.5" y2="498.0" stroke="#222" stroke-width="0.8"/>
<text x="111.3" y="500.3" font-size="6.9" text-anchor="end" fill="#111" stroke="#111" stroke-width="0.16">5</text>
<line x1="114.5" y1="484.3" x2="117.5" y2="484.3" stroke="#222" stroke-width="0.8"/>
<text x="111.3" y="486.6" font-size="6.9" text-anchor="end" fill="#111" stroke="#111" stroke-width="0.16">10</text>
<line x1="114.5" y1="470.7" x2="117.5" y2="470.7" stroke="#222" stroke-width="0.8"/>
<text x="111.3" y="473.0" font-size="6.9" text-anchor="end" fill="#111" stroke="#111" stroke-width="0.16">15</text>
<line x1="114.5" y1="457.0" x2="117.5" y2="457.0" stroke="#222" stroke-width="0.8"/>
<text x="111.3" y="459.3" font-size="6.9" text-anchor="end" fill="#111" stroke="#111" stroke-width="0.16">20</text>
<line x1="114.5" y1="443.3" x2="117.5" y2="443.3" stroke="#222" stroke-width="0.8"/>
<text x="111.3" y="445.6" font-size="6.9" text-anchor="end" fill="#111" stroke="#111" stroke-width="0.16">25</text>
<line x1="114.5" y1="429.6" x2="117.5" y2="429.6" stroke="#222" stroke-width="0.8"/>
<text x="111.3" y="431.9" font-size="6.9" text-anchor="end" fill="#111" stroke="#111" stroke-width="0.16">30</text>
<line x1="114.5" y1="416.0" x2="117.5" y2="416.0" stroke="#222" stroke-width="0.8"/>
<text x="111.3" y="418.3" font-size="6.9" text-anchor="end" fill="#111" stroke="#111" stroke-width="0.16">35</text>
<line x1="114.5" y1="402.3" x2="117.5" y2="402.3" stroke="#222" stroke-width="0.8"/>
<text x="111.3" y="404.6" font-size="6.9" text-anchor="end" fill="#111" stroke="#111" stroke-width="0.16">40</text>
<line x1="114.5" y1="388.6" x2="117.5" y2="388.6" stroke="#222" stroke-width="0.8"/>
<text x="111.3" y="390.9" font-size="6.9" text-anchor="end" fill="#111" stroke="#111" stroke-width="0.16">45</text>
<line x1="114.5" y1="504.9" x2="116.3" y2="504.9" stroke="#222" stroke-width="0.7"/>
<line x1="114.5" y1="491.2" x2="116.3" y2="491.2" stroke="#222" stroke-width="0.7"/>
<line x1="114.5" y1="477.5" x2="116.3" y2="477.5" stroke="#222" stroke-width="0.7"/>
<line x1="114.5" y1="463.8" x2="116.3" y2="463.8" stroke="#222" stroke-width="0.7"/>
<line x1="114.5" y1="450.2" x2="116.3" y2="450.2" stroke="#222" stroke-width="0.7"/>
<line x1="114.5" y1="436.5" x2="116.3" y2="436.5" stroke="#222" stroke-width="0.7"/>
<line x1="114.5" y1="422.8" x2="116.3" y2="422.8" stroke="#222" stroke-width="0.7"/>
<line x1="114.5" y1="409.1" x2="116.3" y2="409.1" stroke="#222" stroke-width="0.7"/>
<line x1="114.5" y1="395.5" x2="116.3" y2="395.5" stroke="#222" stroke-width="0.7"/>
<line x1="114.5" y1="511.7" x2="114.5" y2="508.7" stroke="#222" stroke-width="0.8"/>
<text x="114.5" y="521.0" font-size="6.9" text-anchor="middle" fill="#111" stroke="#111" stroke-width="0.16">-80</text>
<line x1="132.1" y1="511.7" x2="132.1" y2="508.7" stroke="#222" stroke-width="0.8"/>
<text x="132.1" y="521.0" font-size="6.9" text-anchor="middle" fill="#111" stroke="#111" stroke-width="0.16">-60</text>
<line x1="149.7" y1="511.7" x2="149.7" y2="508.7" stroke="#222" stroke-width="0.8"/>
<text x="149.7" y="521.0" font-size="6.9" text-anchor="middle" fill="#111" stroke="#111" stroke-width="0.16">-40</text>
<line x1="167.3" y1="511.7" x2="167.3" y2="508.7" stroke="#222" stroke-width="0.8"/>
<text x="167.3" y="521.0" font-size="6.9" text-anchor="middle" fill="#111" stroke="#111" stroke-width="0.16">-20</text>
<line x1="184.9" y1="511.7" x2="184.9" y2="508.7" stroke="#222" stroke-width="0.8"/>
<text x="184.9" y="521.0" font-size="6.9" text-anchor="middle" fill="#111" stroke="#111" stroke-width="0.16">0</text>
<line x1="202.5" y1="511.7" x2="202.5" y2="508.7" stroke="#222" stroke-width="0.8"/>
<text x="202.5" y="521.0" font-size="6.9" text-anchor="middle" fill="#111" stroke="#111" stroke-width="0.16">20</text>
<line x1="220.1" y1="511.7" x2="220.1" y2="508.7" stroke="#222" stroke-width="0.8"/>
<text x="220.1" y="521.0" font-size="6.9" text-anchor="middle" fill="#111" stroke="#111" stroke-width="0.16">40</text>
<line x1="237.7" y1="511.7" x2="237.7" y2="508.7" stroke="#222" stroke-width="0.8"/>
<text x="237.7" y="521.0" font-size="6.9" text-anchor="middle" fill="#111" stroke="#111" stroke-width="0.16">60</text>
<line x1="255.3" y1="511.7" x2="255.3" y2="508.7" stroke="#222" stroke-width="0.8"/>
<text x="255.3" y="521.0" font-size="6.9" text-anchor="middle" fill="#111" stroke="#111" stroke-width="0.16">80</text>
<line x1="272.9" y1="511.7" x2="272.9" y2="508.7" stroke="#222" stroke-width="0.8"/>
<text x="272.9" y="521.0" font-size="6.9" text-anchor="middle" fill="#111" stroke="#111" stroke-width="0.16">100</text>
<line x1="290.5" y1="511.7" x2="290.5" y2="508.7" stroke="#222" stroke-width="0.8"/>
<text x="290.5" y="521.0" font-size="6.9" text-anchor="middle" fill="#111" stroke="#111" stroke-width="0.16">120</text>
<line x1="308.1" y1="511.7" x2="308.1" y2="508.7" stroke="#222" stroke-width="0.8"/>
<text x="308.1" y="521.0" font-size="6.9" text-anchor="middle" fill="#111" stroke="#111" stroke-width="0.16">140</text>
<line x1="325.7" y1="511.7" x2="325.7" y2="508.7" stroke="#222" stroke-width="0.8"/>
<text x="325.7" y="521.0" font-size="6.9" text-anchor="middle" fill="#111" stroke="#111" stroke-width="0.16">160</text>
<line x1="343.3" y1="511.7" x2="343.3" y2="508.7" stroke="#222" stroke-width="0.8"/>
<text x="343.3" y="521.0" font-size="6.9" text-anchor="middle" fill="#111" stroke="#111" stroke-width="0.16">180</text>
<line x1="360.9" y1="511.7" x2="360.9" y2="508.7" stroke="#222" stroke-width="0.8"/>
<text x="360.9" y="521.0" font-size="6.9" text-anchor="middle" fill="#111" stroke="#111" stroke-width="0.16">200</text>
<line x1="378.5" y1="511.7" x2="378.5" y2="508.7" stroke="#222" stroke-width="0.8"/>
<text x="378.5" y="521.0" font-size="6.9" text-anchor="middle" fill="#111" stroke="#111" stroke-width="0.16">220</text>
<line x1="396.1" y1="511.7" x2="396.1" y2="508.7" stroke="#222" stroke-width="0.8"/>
<text x="396.1" y="521.0" font-size="6.9" text-anchor="middle" fill="#111" stroke="#111" stroke-width="0.16">240</text>
<line x1="413.7" y1="511.7" x2="413.7" y2="508.7" stroke="#222" stroke-width="0.8"/>
<text x="413.7" y="521.0" font-size="6.9" text-anchor="middle" fill="#111" stroke="#111" stroke-width="0.16">260</text>
<line x1="431.3" y1="511.7" x2="431.3" y2="508.7" stroke="#222" stroke-width="0.8"/>
<text x="431.3" y="521.0" font-size="6.9" text-anchor="middle" fill="#111" stroke="#111" stroke-width="0.16">280</text>
<line x1="448.9" y1="511.7" x2="448.9" y2="508.7" stroke="#222" stroke-width="0.8"/>
<text x="448.9" y="521.0" font-size="6.9" text-anchor="middle" fill="#111" stroke="#111" stroke-width="0.16">300</text>
<line x1="466.5" y1="511.7" x2="466.5" y2="508.7" stroke="#222" stroke-width="0.8"/>
<text x="466.5" y="521.0" font-size="6.9" text-anchor="middle" fill="#111" stroke="#111" stroke-width="0.16">320</text>
<line x1="123.3" y1="511.7" x2="123.3" y2="509.9" stroke="#222" stroke-width="0.7"/>
<line x1="140.9" y1="511.7" x2="140.9" y2="509.9" stroke="#222" stroke-width="0.7"/>
<line x1="158.5" y1="511.7" x2="158.5" y2="509.9" stroke="#222" stroke-width="0.7"/>
<line x1="176.1" y1="511.7" x2="176.1" y2="509.9" stroke="#222" stroke-width="0.7"/>
<line x1="193.7" y1="511.7" x2="193.7" y2="509.9" stroke="#222" stroke-width="0.7"/>
<line x1="211.3" y1="511.7" x2="211.3" y2="509.9" stroke="#222" stroke-width="0.7"/>
<line x1="228.9" y1="511.7" x2="228.9" y2="509.9" stroke="#222" stroke-width="0.7"/>
<line x1="246.5" y1="511.7" x2="246.5" y2="509.9" stroke="#222" stroke-width="0.7"/>
<line x1="264.1" y1="511.7" x2="264.1" y2="509.9" stroke="#222" stroke-width="0.7"/>
<line x1="281.7" y1="511.7" x2="281.7" y2="509.9" stroke="#222" stroke-width="0.7"/>
<line x1="299.3" y1="511.7" x2="299.3" y2="509.9" stroke="#222" stroke-width="0.7"/>
<line x1="316.9" y1="511.7" x2="316.9" y2="509.9" stroke="#222" stroke-width="0.7"/>
<line x1="334.5" y1="511.7" x2="334.5" y2="509.9" stroke="#222" stroke-width="0.7"/>
<line x1="352.1" y1="511.7" x2="352.1" y2="509.9" stroke="#222" stroke-width="0.7"/>
<line x1="369.7" y1="511.7" x2="369.7" y2="509.9" stroke="#222" stroke-width="0.7"/>
<line x1="387.3" y1="511.7" x2="387.3" y2="509.9" stroke="#222" stroke-width="0.7"/>
<line x1="404.9" y1="511.7" x2="404.9" y2="509.9" stroke="#222" stroke-width="0.7"/>
<line x1="422.5" y1="511.7" x2="422.5" y2="509.9" stroke="#222" stroke-width="0.7"/>
<line x1="440.1" y1="511.7" x2="440.1" y2="509.9" stroke="#222" stroke-width="0.7"/>
<line x1="457.7" y1="511.7" x2="457.7" y2="509.9" stroke="#222" stroke-width="0.7"/>
<text x="276.2" y="528.6" font-size="7.7" text-anchor="middle" fill="#111" stroke="#111" stroke-width="0.16">Advance distance of No. 6107 working facee /m</text>
<text transform="translate(104.4 444.2) rotate(-90)" font-size="7.8" text-anchor="middle" fill="#111" stroke="#111" stroke-width="0.16">Vertical stress /MPa</text>
<path d="M140.9 470.7C143.8 470.4 152.6 469.6 158.5 469.0C164.4 468.5 170.2 468.4 176.1 467.4C182.0 466.3 187.8 464.2 193.7 462.7C199.6 461.2 205.4 463.0 211.3 458.4C217.2 453.8 223.0 440.2 228.9 435.1C234.8 430.1 240.6 433.2 246.5 428.0C252.4 422.9 259.7 408.3 264.1 404.2C268.5 400.1 270.0 403.2 272.9 403.4C275.8 403.6 277.3 398.4 281.7 405.6C286.1 412.8 293.4 436.3 299.3 446.6C305.2 456.9 311.0 462.2 316.9 467.4C322.8 472.5 328.6 475.7 334.5 477.5C340.4 479.3 346.2 478.4 352.1 478.3C358.0 478.2 363.8 477.1 369.7 477.0C375.6 476.9 381.4 477.4 387.3 477.8C393.2 478.2 399.0 478.9 404.9 479.4C410.8 480.0 416.6 480.7 422.5 481.1C428.4 481.4 434.2 481.3 440.1 481.3C446.0 481.3 454.8 481.1 457.7 481.1" stroke="#86108a" stroke-width="1.4" fill="none" stroke-linejoin="round"/>
<circle cx="158.5" cy="469.0" r="2.23" fill="#86108a"/>
<circle cx="176.1" cy="467.4" r="2.23" fill="#86108a"/>
<circle cx="193.7" cy="462.7" r="2.23" fill="#86108a"/>
<circle cx="211.3" cy="458.4" r="2.23" fill="#86108a"/>
<circle cx="228.9" cy="435.1" r="2.23" fill="#86108a"/>
<circle cx="246.5" cy="428.0" r="2.23" fill="#86108a"/>
<circle cx="264.1" cy="404.2" r="2.23" fill="#86108a"/>
<circle cx="281.7" cy="405.6" r="2.23" fill="#86108a"/>
<circle cx="299.3" cy="446.6" r="2.23" fill="#86108a"/>
<circle cx="316.9" cy="467.4" r="2.23" fill="#86108a"/>
<circle cx="334.5" cy="477.5" r="2.23" fill="#86108a"/>
<circle cx="352.1" cy="478.3" r="2.23" fill="#86108a"/>
<circle cx="369.7" cy="477.0" r="2.23" fill="#86108a"/>
<circle cx="387.3" cy="477.8" r="2.23" fill="#86108a"/>
<circle cx="404.9" cy="479.4" r="2.23" fill="#86108a"/>
<circle cx="422.5" cy="481.1" r="2.23" fill="#86108a"/>
<circle cx="440.1" cy="481.3" r="2.23" fill="#86108a"/>
<circle cx="457.7" cy="481.1" r="2.23" fill="#86108a"/>
<path d="M140.9 470.7C143.8 470.4 152.6 469.6 158.5 469.0C164.4 468.5 170.2 468.4 176.1 467.4C182.0 466.3 187.8 464.2 193.7 462.7C199.6 461.2 205.4 463.0 211.3 458.4C217.2 453.8 223.0 440.2 228.9 435.1C234.8 430.1 240.6 433.2 246.5 428.0C252.4 422.9 259.7 408.3 264.1 404.2C268.5 400.1 270.0 403.2 272.9 403.4C275.8 403.6 277.3 398.4 281.7 405.6C286.1 412.8 293.4 436.3 299.3 446.6C305.2 456.9 311.0 462.2 316.9 467.4C322.8 472.5 328.6 475.7 334.5 477.5C340.4 479.3 346.2 478.5 352.1 478.3C358.0 478.2 363.8 477.0 369.7 476.4C375.6 475.9 381.4 475.3 387.3 475.1C393.2 474.8 399.0 474.5 404.9 474.8C410.8 475.0 416.6 476.0 422.5 476.4C428.4 476.9 434.2 477.5 440.1 477.5C446.0 477.6 454.8 476.8 457.7 476.7" stroke="#7a1cf0" stroke-width="1.4" fill="none" stroke-linejoin="round"/>
<circle cx="158.5" cy="469.0" r="2.23" fill="#7a1cf0"/>
<circle cx="176.1" cy="467.4" r="2.23" fill="#7a1cf0"/>
<circle cx="193.7" cy="462.7" r="2.23" fill="#7a1cf0"/>
<circle cx="211.3" cy="458.4" r="2.23" fill="#7a1cf0"/>
<circle cx="228.9" cy="435.1" r="2.23" fill="#7a1cf0"/>
<circle cx="246.5" cy="428.0" r="2.23" fill="#7a1cf0"/>
<circle cx="264.1" cy="404.2" r="2.23" fill="#7a1cf0"/>
<circle cx="281.7" cy="405.6" r="2.23" fill="#7a1cf0"/>
<circle cx="299.3" cy="446.6" r="2.23" fill="#7a1cf0"/>
<circle cx="316.9" cy="467.4" r="2.23" fill="#7a1cf0"/>
<circle cx="334.5" cy="477.5" r="2.23" fill="#7a1cf0"/>
<circle cx="352.1" cy="478.3" r="2.23" fill="#7a1cf0"/>
<circle cx="369.7" cy="476.4" r="2.23" fill="#7a1cf0"/>
<circle cx="387.3" cy="475.1" r="2.23" fill="#7a1cf0"/>
<circle cx="404.9" cy="474.8" r="2.23" fill="#7a1cf0"/>
<circle cx="422.5" cy="476.4" r="2.23" fill="#7a1cf0"/>
<circle cx="440.1" cy="477.5" r="2.23" fill="#7a1cf0"/>
<circle cx="457.7" cy="476.7" r="2.23" fill="#7a1cf0"/>
<path d="M140.9 470.7C143.8 470.4 152.6 469.6 158.5 469.0C164.4 468.5 170.2 468.4 176.1 467.4C182.0 466.3 187.8 464.2 193.7 462.7C199.6 461.3 205.4 463.2 211.3 458.6C217.2 454.0 223.0 440.1 228.9 435.1C234.8 430.1 240.6 433.8 246.5 428.6C252.4 423.3 259.7 408.6 264.1 403.7C268.5 398.7 270.0 398.8 272.9 399.0C275.8 399.2 277.3 397.1 281.7 405.0C286.1 413.0 293.4 436.2 299.3 446.6C305.2 457.0 311.0 462.3 316.9 467.4C322.8 472.5 328.6 475.6 334.5 477.2C340.4 478.9 346.2 478.2 352.1 477.2C358.0 476.3 363.8 471.9 369.7 471.8C375.6 471.7 381.4 475.6 387.3 476.7C393.2 477.8 399.0 478.3 404.9 478.3C410.8 478.3 416.6 477.6 422.5 476.7C428.4 475.8 434.2 474.6 440.1 473.1C446.0 471.6 454.8 468.6 457.7 467.7" stroke="#f01418" stroke-width="1.4" fill="none" stroke-linejoin="round"/>
<path d="M158.5 466.1 L161.3 471.0 L155.7 471.0Z" fill="#f01418"/>
<path d="M176.1 464.5 L178.9 469.4 L173.3 469.4Z" fill="#f01418"/>
<path d="M193.7 459.8 L196.5 464.7 L190.9 464.7Z" fill="#f01418"/>
<path d="M211.3 455.7 L214.1 460.6 L208.5 460.6Z" fill="#f01418"/>
<path d="M228.9 432.2 L231.7 437.1 L226.1 437.1Z" fill="#f01418"/>
<path d="M246.5 425.6 L249.3 430.6 L243.7 430.6Z" fill="#f01418"/>
<path d="M264.1 400.7 L266.9 405.7 L261.3 405.7Z" fill="#f01418"/>
<path d="M281.7 402.1 L284.5 407.0 L278.9 407.0Z" fill="#f01418"/>
<path d="M299.3 443.7 L302.1 448.6 L296.5 448.6Z" fill="#f01418"/>
<path d="M316.9 464.5 L319.7 469.4 L314.1 469.4Z" fill="#f01418"/>
<path d="M334.5 474.3 L337.3 479.2 L331.7 479.2Z" fill="#f01418"/>
<path d="M352.1 474.3 L354.9 479.2 L349.3 479.2Z" fill="#f01418"/>
<path d="M369.7 468.8 L372.5 473.8 L366.9 473.8Z" fill="#f01418"/>
<path d="M387.3 473.8 L390.1 478.7 L384.5 478.7Z" fill="#f01418"/>
<path d="M404.9 475.4 L407.7 480.3 L402.1 480.3Z" fill="#f01418"/>
<path d="M422.5 473.8 L425.3 478.7 L419.7 478.7Z" fill="#f01418"/>
<path d="M440.1 470.2 L442.9 475.1 L437.3 475.1Z" fill="#f01418"/>
<path d="M457.7 464.7 L460.5 469.7 L454.9 469.7Z" fill="#f01418"/>
<path d="M140.9 470.7C143.8 470.4 152.6 469.8 158.5 469.3C164.4 468.9 170.2 468.8 176.1 467.9C182.0 467.1 187.8 465.4 193.7 464.1C199.6 462.8 205.4 464.7 211.3 460.3C217.2 455.9 223.0 442.8 228.9 437.9C234.8 432.9 240.6 436.0 246.5 430.7C252.4 425.5 259.7 410.9 264.1 406.4C268.5 401.9 270.0 403.5 272.9 403.9C275.8 404.4 277.3 401.2 281.7 408.9C286.1 416.5 293.4 439.5 299.3 449.9C305.2 460.3 311.0 465.5 316.9 471.2C322.8 476.9 328.6 482.4 334.5 484.1C340.4 485.8 346.2 482.6 352.1 481.3C358.0 480.1 363.8 478.1 369.7 476.7C375.6 475.3 381.4 474.5 387.3 473.1C393.2 471.8 399.0 470.3 404.9 468.8C410.8 467.2 416.6 465.5 422.5 463.8C428.4 462.2 434.2 460.4 440.1 458.6C446.0 456.9 454.8 454.1 457.7 453.2" stroke="#22d422" stroke-width="1.4" fill="none" stroke-linejoin="round"/>
<path d="M158.5 472.2 L161.3 467.3 L155.7 467.3Z" fill="#22d422"/>
<path d="M176.1 470.9 L178.9 465.9 L173.3 465.9Z" fill="#22d422"/>
<path d="M193.7 467.0 L196.5 462.1 L190.9 462.1Z" fill="#22d422"/>
<path d="M211.3 463.2 L214.1 458.3 L208.5 458.3Z" fill="#22d422"/>
<path d="M228.9 440.8 L231.7 435.9 L226.1 435.9Z" fill="#22d422"/>
<path d="M246.5 433.7 L249.3 428.7 L243.7 428.7Z" fill="#22d422"/>
<path d="M264.1 409.3 L266.9 404.4 L261.3 404.4Z" fill="#22d422"/>
<path d="M281.7 411.8 L284.5 406.9 L278.9 406.9Z" fill="#22d422"/>
<path d="M299.3 452.8 L302.1 447.9 L296.5 447.9Z" fill="#22d422"/>
<path d="M316.9 474.2 L319.7 469.2 L314.1 469.2Z" fill="#22d422"/>
<path d="M334.5 487.0 L337.3 482.1 L331.7 482.1Z" fill="#22d422"/>
<path d="M352.1 484.3 L354.9 479.3 L349.3 479.3Z" fill="#22d422"/>
<path d="M369.7 479.6 L372.5 474.7 L366.9 474.7Z" fill="#22d422"/>
<path d="M387.3 476.1 L390.1 471.1 L384.5 471.1Z" fill="#22d422"/>
<path d="M404.9 471.7 L407.7 466.8 L402.1 466.8Z" fill="#22d422"/>
<path d="M422.5 466.8 L425.3 461.8 L419.7 461.8Z" fill="#22d422"/>
<path d="M440.1 461.6 L442.9 456.6 L437.3 456.6Z" fill="#22d422"/>
<path d="M457.7 456.1 L460.5 451.2 L454.9 451.2Z" fill="#22d422"/>
<path d="M140.9 470.7C143.8 470.5 152.6 469.9 158.5 469.6C164.4 469.2 170.2 469.1 176.1 468.5C182.0 467.8 187.8 466.7 193.7 465.8C199.6 464.8 205.4 465.6 211.3 463.0C217.2 460.5 223.0 454.3 228.9 450.4C234.8 446.6 240.6 445.3 246.5 440.0C252.4 434.8 259.7 423.3 264.1 419.0C268.5 414.7 270.0 413.8 272.9 414.1C275.8 414.3 277.3 412.6 281.7 420.4C286.1 428.1 293.4 450.7 299.3 460.8C305.2 471.0 311.0 476.4 316.9 481.3C322.8 486.3 328.6 489.4 334.5 490.6C340.4 491.9 346.2 489.8 352.1 488.7C358.0 487.6 363.8 485.3 369.7 484.1C375.6 482.8 381.4 482.4 387.3 481.3C393.2 480.3 399.0 478.7 404.9 477.8C410.8 476.8 416.6 476.7 422.5 475.6C428.4 474.5 434.2 472.7 440.1 471.2C446.0 469.7 454.8 467.3 457.7 466.6" stroke="#18dce0" stroke-width="1.4" fill="none" stroke-linejoin="round"/>
<path d="M158.5 466.5 L161.6 469.6 L158.5 472.6 L155.4 469.6Z" fill="#18dce0"/>
<path d="M176.1 465.4 L179.2 468.5 L176.1 471.5 L173.0 468.5Z" fill="#18dce0"/>
<path d="M193.7 462.7 L196.8 465.8 L193.7 468.8 L190.6 465.8Z" fill="#18dce0"/>
<path d="M211.3 460.0 L214.4 463.0 L211.3 466.1 L208.2 463.0Z" fill="#18dce0"/>
<path d="M228.9 447.4 L232.0 450.4 L228.9 453.5 L225.8 450.4Z" fill="#18dce0"/>
<path d="M246.5 437.0 L249.6 440.0 L246.5 443.1 L243.4 440.0Z" fill="#18dce0"/>
<path d="M264.1 415.9 L267.2 419.0 L264.1 422.0 L261.0 419.0Z" fill="#18dce0"/>
<path d="M281.7 417.3 L284.8 420.4 L281.7 423.4 L278.6 420.4Z" fill="#18dce0"/>
<path d="M299.3 457.8 L302.4 460.8 L299.3 463.9 L296.2 460.8Z" fill="#18dce0"/>
<path d="M316.9 478.3 L320.0 481.3 L316.9 484.4 L313.8 481.3Z" fill="#18dce0"/>
<path d="M334.5 487.6 L337.6 490.6 L334.5 493.7 L331.4 490.6Z" fill="#18dce0"/>
<path d="M352.1 485.7 L355.2 488.7 L352.1 491.8 L349.0 488.7Z" fill="#18dce0"/>
<path d="M369.7 481.0 L372.8 484.1 L369.7 487.1 L366.6 484.1Z" fill="#18dce0"/>
<path d="M387.3 478.3 L390.4 481.3 L387.3 484.4 L384.2 481.3Z" fill="#18dce0"/>
<path d="M404.9 474.7 L408.0 477.8 L404.9 480.8 L401.8 477.8Z" fill="#18dce0"/>
<path d="M422.5 472.5 L425.6 475.6 L422.5 478.7 L419.4 475.6Z" fill="#18dce0"/>
<path d="M440.1 468.2 L443.2 471.2 L440.1 474.3 L437.0 471.2Z" fill="#18dce0"/>
<path d="M457.7 463.5 L460.8 466.6 L457.7 469.6 L454.6 466.6Z" fill="#18dce0"/>
<path d="M140.9 470.7C143.8 470.6 152.6 470.3 158.5 470.1C164.4 469.9 170.2 469.9 176.1 469.6C182.0 469.2 187.8 468.6 193.7 467.9C199.6 467.3 205.4 467.0 211.3 465.5C217.2 464.0 223.0 461.1 228.9 458.9C234.8 456.7 240.6 455.7 246.5 452.1C252.4 448.5 259.7 440.4 264.1 437.3C268.5 434.2 270.0 433.3 272.9 433.5C275.8 433.7 277.3 432.0 281.7 438.4C286.1 444.8 293.4 463.2 299.3 471.8C305.2 480.4 311.0 485.8 316.9 490.1C322.8 494.4 328.6 496.7 334.5 497.8C340.4 498.8 346.2 497.6 352.1 496.7C358.0 495.7 363.8 493.8 369.7 492.3C375.6 490.8 381.4 489.0 387.3 487.6C393.2 486.3 399.0 485.4 404.9 484.1C410.8 482.8 416.6 481.5 422.5 479.7C428.4 477.9 434.2 475.1 440.1 473.1C446.0 471.1 454.8 468.6 457.7 467.7" stroke="#f018e8" stroke-width="1.4" fill="none" stroke-linejoin="round"/>
<path d="M155.6 470.1 L160.5 467.3 L160.5 472.9Z" fill="#f018e8"/>
<path d="M173.2 469.6 L178.1 466.8 L178.1 472.4Z" fill="#f018e8"/>
<path d="M190.8 467.9 L195.7 465.1 L195.7 470.8Z" fill="#f018e8"/>
<path d="M208.4 465.5 L213.3 462.7 L213.3 468.3Z" fill="#f018e8"/>
<path d="M226.0 458.9 L230.9 456.1 L230.9 461.7Z" fill="#f018e8"/>
<path d="M243.6 452.1 L248.5 449.3 L248.5 454.9Z" fill="#f018e8"/>
<path d="M261.2 437.3 L266.1 434.5 L266.1 440.1Z" fill="#f018e8"/>
<path d="M278.8 438.4 L283.7 435.6 L283.7 441.2Z" fill="#f018e8"/>
<path d="M296.4 471.8 L301.3 468.9 L301.3 474.6Z" fill="#f018e8"/>
<path d="M314.0 490.1 L318.9 487.3 L318.9 492.9Z" fill="#f018e8"/>
<path d="M331.6 497.8 L336.5 494.9 L336.5 500.6Z" fill="#f018e8"/>
<path d="M349.2 496.7 L354.1 493.8 L354.1 499.5Z" fill="#f018e8"/>
<path d="M366.8 492.3 L371.7 489.5 L371.7 495.1Z" fill="#f018e8"/>
<path d="M384.4 487.6 L389.3 484.8 L389.3 490.5Z" fill="#f018e8"/>
<path d="M402.0 484.1 L406.9 481.3 L406.9 486.9Z" fill="#f018e8"/>
<path d="M419.6 479.7 L424.5 476.9 L424.5 482.5Z" fill="#f018e8"/>
<path d="M437.2 473.1 L442.1 470.3 L442.1 476.0Z" fill="#f018e8"/>
<path d="M454.8 467.7 L459.7 464.8 L459.7 470.5Z" fill="#f018e8"/>
<line x1="120.8" y1="385.2" x2="136.8" y2="385.2" stroke="#86108a" stroke-width="1.15"/>
<circle cx="128.8" cy="385.2" r="2.23" fill="#86108a"/>
<text x="138.4" y="387.6" font-size="6.8" fill="#111" stroke="#111" stroke-width="0.16">Unfilled</text>
<line x1="120.8" y1="393.4" x2="136.8" y2="393.4" stroke="#7a1cf0" stroke-width="1.15"/>
<circle cx="128.8" cy="393.4" r="2.23" fill="#7a1cf0"/>
<text x="138.4" y="395.8" font-size="6.8" fill="#111" stroke="#111" stroke-width="0.16">Filling strength 1MPa</text>
<line x1="120.8" y1="401.8" x2="136.8" y2="401.8" stroke="#f01418" stroke-width="1.15"/>
<path d="M128.8 398.9 L131.6 403.8 L126.0 403.8Z" fill="#f01418"/>
<text x="138.4" y="404.2" font-size="6.8" fill="#111" stroke="#111" stroke-width="0.16">Filling strength 2MPa</text>
<line x1="120.8" y1="410.2" x2="136.8" y2="410.2" stroke="#22d422" stroke-width="1.15"/>
<path d="M128.8 413.1 L131.6 408.2 L126.0 408.2Z" fill="#22d422"/>
<text x="138.4" y="412.6" font-size="6.8" fill="#111" stroke="#111" stroke-width="0.16">Filling strength 3MPa</text>
<line x1="120.8" y1="418.8" x2="136.8" y2="418.8" stroke="#18dce0" stroke-width="1.15"/>
<path d="M128.8 415.7 L131.9 418.8 L128.8 421.9 L125.7 418.8Z" fill="#18dce0"/>
<text x="138.4" y="421.2" font-size="6.8" fill="#111" stroke="#111" stroke-width="0.16">Filling strength 4MPa</text>
<line x1="120.8" y1="427.6" x2="136.8" y2="427.6" stroke="#f018e8" stroke-width="1.15"/>
<path d="M125.9 427.6 L130.8 424.8 L130.8 430.4Z" fill="#f018e8"/>
<text x="138.4" y="430.0" font-size="6.8" fill="#111" stroke="#111" stroke-width="0.16">Filling strength 5MPa</text>
<linearGradient id="cb" x1="0" y1="0" x2="0" y2="1"><stop offset="0" stop-color="#f01010"/><stop offset="0.12" stop-color="#ff7010"/><stop offset="0.25" stop-color="#f8e010"/><stop offset="0.42" stop-color="#50e820"/><stop offset="0.58" stop-color="#10e8b0"/><stop offset="0.72" stop-color="#10c0f8"/><stop offset="0.86" stop-color="#1060f8"/><stop offset="1" stop-color="#0818e0"/></linearGradient>
<rect x="120.2" y="436.2" width="3.0" height="74.2" fill="url(#cb)"/>
<text x="124.2" y="435.4" font-size="4.6" font-style="italic" fill="#222" stroke="#222" stroke-width="0.16">ZZ-stress</text>
<text x="125" y="439.7" font-size="3.5" fill="#333" stroke="#333" stroke-width="0.16">2.0670×10⁴</text>
<text x="134" y="444.2" font-size="3.5" fill="#333" stroke="#333" stroke-width="0.16">0</text>
<text x="125" y="448.6" font-size="3.5" fill="#333" stroke="#333" stroke-width="0.16">-2.5000×10⁶</text>
<text x="125" y="453.1" font-size="3.5" fill="#333" stroke="#333" stroke-width="0.16">-5.0000×10⁶</text>
<text x="125" y="457.5" font-size="3.5" fill="#333" stroke="#333" stroke-width="0.16">-7.5000×10⁶</text>
<text x="125" y="462.0" font-size="3.5" fill="#333" stroke="#333" stroke-width="0.16">-1.0000×10⁷</text>
<text x="125" y="466.5" font-size="3.5" fill="#333" stroke="#333" stroke-width="0.16">-1.2500×10⁷</text>
<text x="125" y="470.9" font-size="3.5" fill="#333" stroke="#333" stroke-width="0.16">-1.5000×10⁷</text>
<text x="125" y="475.4" font-size="3.5" fill="#333" stroke="#333" stroke-width="0.16">-1.7500×10⁷</text>
<text x="125" y="479.8" font-size="3.5" fill="#333" stroke="#333" stroke-width="0.16">-2.0000×10⁷</text>
<text x="125" y="484.3" font-size="3.5" fill="#333" stroke="#333" stroke-width="0.16">-2.2500×10⁷</text>
<text x="125" y="488.8" font-size="3.5" fill="#333" stroke="#333" stroke-width="0.16">-2.5000×10⁷</text>
<text x="125" y="493.2" font-size="3.5" fill="#333" stroke="#333" stroke-width="0.16">-2.7500×10⁷</text>
<text x="125" y="497.7" font-size="3.5" fill="#333" stroke="#333" stroke-width="0.16">-3.0000×10⁷</text>
<text x="125" y="502.1" font-size="3.5" fill="#333" stroke="#333" stroke-width="0.16">-3.2500×10⁷</text>
<text x="125" y="506.6" font-size="3.5" fill="#333" stroke="#333" stroke-width="0.16">-3.5000×10⁷</text>
<text x="125" y="511.1" font-size="3.5" fill="#333" stroke="#333" stroke-width="0.16">-3.7103×10⁷</text>
<text x="200.9" y="394.0" font-size="7.6" fill="#8a2cf4" stroke="#8a2cf4" stroke-width="0.16">Front abutment pressure</text>
<path d="M223.4 395.6 L243.7 411.5" stroke="#f01818" stroke-width="1.2" fill="none"/><path d="M247.6 414.6 L242.5 413.0 L244.8 410.0Z" fill="#f01818"/>
<path d="M300.2 410.1 L286.4 410.1" stroke="#8a2cf4" stroke-width="1.5" fill="none"/><path d="M282.2 410.1 L286.4 408.4 L286.4 411.8Z" fill="#8a2cf4"/>
<text x="158.6" y="492.8" font-size="7.66" fill="#c020f0" stroke="#c020f0" stroke-width="0.16">Initial vertical stress</text>
<path d="M193.4 486.0 L181.4 473.6" stroke="#9a2cf0" stroke-width="1.3" fill="none"/><path d="M178.4 470.4 L182.7 472.4 L180.2 474.7Z" fill="#9a2cf0"/>
<text x="352.9" y="462.8" font-size="7.5" fill="#8a2cf4" stroke="#8a2cf4" stroke-width="0.16">Filling strength 3MPa</text>
<path d="M366.0 455.5 L338.1 438.1" stroke="#8a2cf4" stroke-width="1.0" fill="none"/><path d="M335.0 436.2 L338.7 437.0 L337.4 439.2Z" fill="#8a2cf4"/>
<path d="M369.0 455.5 L347.8 438.5" stroke="#8a2cf4" stroke-width="1.0" fill="none"/><path d="M345.0 436.2 L348.6 437.4 L347.0 439.5Z" fill="#8a2cf4"/>
<path d="M373.0 455.5 L358.4 438.9" stroke="#8a2cf4" stroke-width="1.0" fill="none"/><path d="M356.0 436.2 L359.4 438.0 L357.4 439.8Z" fill="#8a2cf4"/>
<path d="M377.0 455.5 L367.8 439.3" stroke="#8a2cf4" stroke-width="1.0" fill="none"/><path d="M366.0 436.2 L368.9 438.7 L366.7 440.0Z" fill="#8a2cf4"/>
<path d="M381.0 455.5 L376.9 439.7" stroke="#8a2cf4" stroke-width="1.0" fill="none"/><path d="M376.0 436.2 L378.2 439.4 L375.6 440.0Z" fill="#8a2cf4"/>
<path d="M388.0 455.5 L398.1 439.3" stroke="#8a2cf4" stroke-width="1.0" fill="none"/><path d="M400.0 436.2 L399.2 439.9 L397.0 438.6Z" fill="#8a2cf4"/>
<path d="M392.0 455.5 L408.5 438.8" stroke="#8a2cf4" stroke-width="1.0" fill="none"/><path d="M411.0 436.2 L409.4 439.7 L407.5 437.9Z" fill="#8a2cf4"/>
<path d="M396.0 455.5 L418.2 438.4" stroke="#8a2cf4" stroke-width="1.0" fill="none"/><path d="M421.0 436.2 L418.9 439.4 L417.4 437.4Z" fill="#8a2cf4"/>
<path d="M400.0 455.5 L427.9 438.1" stroke="#8a2cf4" stroke-width="1.0" fill="none"/><path d="M431.0 436.2 L428.6 439.2 L427.3 437.0Z" fill="#8a2cf4"/>
<path d="M404.0 455.5 L437.8 437.9" stroke="#8a2cf4" stroke-width="1.0" fill="none"/><path d="M441.0 436.2 L438.4 439.0 L437.2 436.7Z" fill="#8a2cf4"/>
<text x="267.4" y="495.8" font-size="7.4" text-anchor="middle" fill="#111" stroke="#111" stroke-width="0.16">1</text>
<text x="284.6" y="495.8" font-size="7.4" text-anchor="middle" fill="#111" stroke="#111" stroke-width="0.16">2</text>
<text x="301.6" y="495.8" font-size="7.4" text-anchor="middle" fill="#111" stroke="#111" stroke-width="0.16">3</text>
<text x="319.6" y="505.0" font-size="7.4" text-anchor="middle" fill="#111" stroke="#111" stroke-width="0.16">4</text>
<text x="336.8" y="506.4" font-size="7.4" text-anchor="middle" fill="#111" stroke="#111" stroke-width="0.16">5</text>
<text x="372.4" y="505.0" font-size="7.4" text-anchor="middle" fill="#111" stroke="#111" stroke-width="0.16">6</text>
<text x="443.4" y="505.0" font-size="7.4" text-anchor="middle" fill="#111" stroke="#111" stroke-width="0.16">7</text>
<rect x="113.2" y="534.1" width="357.4" height="10.1" fill="#fff" stroke="#777" stroke-width="0.8"/>
<rect x="113.2" y="534.1" width="45.4" height="10.1" fill="#c4c4c4" stroke="#777" stroke-width="0.8"/>
<rect x="431" y="534.1" width="39.6" height="10.1" fill="#c4c4c4" stroke="#777" stroke-width="0.8"/>
<text x="115" y="542.0" font-size="6.56" fill="#e02020" stroke="#e02020" stroke-width="0.16">No. 9 coal seam</text>
<rect x="185.4" y="534.1" width="8.2" height="10.1" fill="#c4c4c4" stroke="#666" stroke-width="0.8"/>
<text x="189.5" y="541.9" font-size="6.6" text-anchor="middle" fill="#111" stroke="#111" stroke-width="0.16">1</text>
<rect x="220.8" y="534.1" width="8.8" height="10.1" fill="#c4c4c4" stroke="#666" stroke-width="0.8"/>
<text x="225.2" y="541.9" font-size="6.6" text-anchor="middle" fill="#111" stroke="#111" stroke-width="0.16">2</text>
<rect x="255.2" y="534.1" width="9.6" height="10.1" fill="#c4c4c4" stroke="#666" stroke-width="0.8"/>
<text x="260.0" y="541.9" font-size="6.6" text-anchor="middle" fill="#111" stroke="#111" stroke-width="0.16">3</text>
<rect x="325.4" y="534.1" width="9.2" height="10.1" fill="#c4c4c4" stroke="#666" stroke-width="0.8"/>
<text x="330.0" y="541.9" font-size="6.6" text-anchor="middle" fill="#111" stroke="#111" stroke-width="0.16">5</text>
<rect x="360.8" y="534.1" width="8.8" height="10.1" fill="#c4c4c4" stroke="#666" stroke-width="0.8"/>
<text x="365.2" y="541.9" font-size="6.6" text-anchor="middle" fill="#111" stroke="#111" stroke-width="0.16">6</text>
<rect x="395.6" y="534.1" width="9.4" height="10.1" fill="#c4c4c4" stroke="#666" stroke-width="0.8"/>
<text x="400.3" y="541.9" font-size="6.6" text-anchor="middle" fill="#111" stroke="#111" stroke-width="0.16">7</text>
<rect x="289.8" y="534.1" width="9.6" height="10.1" fill="#1010e0" stroke="#0a0a90" stroke-width="0.8"/>
<text x="294.6" y="541.9" font-size="6.6" text-anchor="middle" fill="#f02020" stroke="#f02020" stroke-width="0.16">4</text>
<line x1="264.1" y1="511.7" x2="264.1" y2="544.0" stroke="#30e030" stroke-width="0.7" stroke-dasharray="1.6 1.2"/>
<line x1="299.3" y1="511.7" x2="299.3" y2="544.0" stroke="#20e0e0" stroke-width="0.7" stroke-dasharray="1.6 1.2"/>
<line x1="369.7" y1="511.7" x2="369.7" y2="544.0" stroke="#f020e8" stroke-width="0.7" stroke-dasharray="1.6 1.2"/>
<text x="287" y="374.6" font-size="10.4" text-anchor="middle" fill="#111" stroke="#111" stroke-width="0.16">(<tspan font-weight="bold">a</tspan>)</text>
<text x="287.4" y="559.2" font-size="10.4" text-anchor="middle" fill="#111" stroke="#111" stroke-width="0.16">(<tspan font-weight="bold">b</tspan>)</text>
</svg>
</body></html>
